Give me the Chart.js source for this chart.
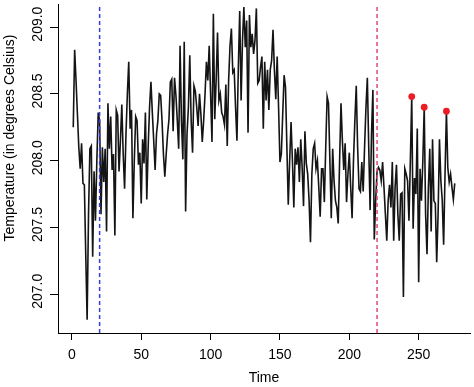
<!DOCTYPE html>
<html><head><meta charset="utf-8">
<script src="https://cdn.jsdelivr.net/npm/chart.js@4"></script>
<style>html,body{margin:0;padding:0;background:#fff}#wrap{width:474px;height:387px}</style>
</head><body><div id="wrap"><canvas id="c" width="474" height="387"></canvas></div>
<script>
// Temperature readings for Time = 1..276
const temps = [
208.25,208.83,208.60,208.35,208.10,207.94,208.13,207.83,207.82,207.30,
206.81,207.60,208.09,208.11,207.28,207.92,207.55,208.00,208.36,208.30,
207.60,208.10,207.84,208.09,207.47,208.43,208.09,208.33,207.93,208.05,
207.44,208.38,208.34,207.92,208.15,208.42,208.05,207.79,208.20,208.50,
208.74,208.24,208.38,207.57,208.00,208.33,208.30,207.97,208.06,207.68,
208.16,207.98,208.36,207.71,208.10,208.40,208.59,208.36,208.15,207.93,
208.20,208.30,208.50,208.49,208.30,208.05,207.88,208.05,208.20,208.31,
208.59,208.61,208.22,208.62,208.49,208.30,208.09,208.86,208.30,208.01,
208.89,207.62,208.20,208.40,208.79,208.30,208.06,208.56,208.52,208.40,
208.26,208.50,208.35,208.14,208.30,208.50,208.74,208.60,208.86,208.50,
208.14,209.10,208.31,208.60,208.96,208.45,208.50,208.36,208.33,208.27,
208.57,208.11,208.60,208.86,208.99,208.66,208.68,208.40,208.15,208.70,
209.12,208.45,208.90,209.15,208.85,209.05,208.21,209.09,208.85,208.95,
208.80,208.90,209.14,208.58,208.60,208.70,208.78,208.24,208.74,208.45,
208.68,208.38,208.68,208.75,208.98,208.68,208.46,208.78,208.40,207.99,
208.05,208.35,208.64,208.55,208.10,207.67,208.00,208.29,208.00,207.65,
208.09,207.97,208.10,207.84,208.16,207.95,207.66,208.22,207.98,207.90,
207.70,207.39,207.90,208.09,208.13,207.94,208.00,207.80,207.58,207.94,
207.94,207.69,208.10,208.48,208.43,208.00,207.57,208.09,207.85,207.70,
207.65,207.53,208.00,208.43,208.15,207.93,208.13,207.69,207.90,208.06,
207.80,207.57,208.00,208.30,208.56,208.10,207.79,207.77,207.99,207.77,
208.10,208.40,208.62,208.10,207.63,208.20,208.53,207.41,207.70,207.92,
207.95,207.93,207.85,207.99,207.80,207.60,207.40,207.70,207.82,207.65,
207.99,207.40,207.80,207.97,207.60,207.40,207.75,207.76,206.98,207.94,
207.90,207.85,207.55,208.00,208.48,207.49,207.87,207.75,208.24,207.09,
207.94,207.70,208.00,208.40,207.60,207.30,207.80,208.09,207.47,208.16,
207.70,207.68,207.24,207.60,208.16,207.85,207.70,207.37,207.90,208.37,
207.95,207.84,207.90,207.80,207.71,207.83
];
const outlierTimes = [245, 254, 270];
const outlierTemps = [208.48, 208.40, 208.37];
const changeTimes = [20, 220];
const changeColors = ['#2e40e0', '#e04870'];
const xTicks = [0, 50, 100, 150, 200, 250];
const yTicks = [207.0, 207.5, 208.0, 208.5, 209.0];
const yTickLabels = ['207.0', '207.5', '208.0', '208.5', '209.0'];
const X_MIN = -10, X_MAX = 287, Y_MIN = 206.71, Y_MAX = 209.173;

const FONT = '"Liberation Sans", Arial, Helvetica, sans-serif';

const seriesPts = temps.map((v, i) => ({x: i + 1, y: v}));
const outPts = outlierTimes.map((t, i) => ({x: t, y: outlierTemps[i]}));

const datasets = [
  {type: 'scatter', data: outPts, pointRadius: 3.4, pointBackgroundColor: '#ee1c24',
   pointBorderWidth: 0, order: 0},
  {type: 'line', data: seriesPts, borderColor: '#141414', borderWidth: 1.6, pointRadius: 0,
   tension: 0, fill: false, order: 2}
];
changeTimes.forEach((t, i) => {
  datasets.push({type: 'line', data: [{x: t, y: Y_MIN}, {x: t, y: Y_MAX}],
    borderColor: changeColors[i], borderWidth: 1.5, borderDash: [4, 3],
    pointRadius: 0, fill: false, order: 1});
});

const yLabelPlugin = {
  id: 'yLabels',
  afterDraw(chart) {
    const ctx = chart.ctx, ys = chart.scales.y;
    ctx.save();
    ctx.font = '14px ' + FONT;
    ctx.fillStyle = '#000';
    ctx.textAlign = 'center';
    ctx.textBaseline = 'middle';
    yTicks.forEach((v, i) => {
      const py = ys.getPixelForValue(v) - 3;
      ctx.save(); ctx.translate(38, py); ctx.rotate(-Math.PI / 2);
      ctx.fillText(yTickLabels[i], 0, 0); ctx.restore();
    });
    ctx.save(); ctx.translate(10, 138); ctx.rotate(-Math.PI / 2);
    ctx.fillText('Temperature (in degrees Celsius)', 0, 0); ctx.restore();
    ctx.restore();
  }
};

new Chart(document.getElementById('c'), {
  data: {datasets},
  options: {
    responsive: false, devicePixelRatio: 1, animation: false,
    layout: {padding: 0},
    plugins: {legend: {display: false}, tooltip: {enabled: false}},
    scales: {
      x: {
        type: 'linear', min: X_MIN, max: X_MAX,
        afterBuildTicks: s => { s.ticks = xTicks.map(v => ({value: v})); },
        afterFit: s => { s.height = 54; },
        ticks: {font: {family: FONT, size: 14}, color: '#000', padding: 7,
                maxRotation: 0, autoSkip: false, callback: v => String(v)},
        grid: {display: true, drawOnChartArea: false, drawTicks: true, tickLength: 7, color: '#000'},
        border: {display: true, color: '#000', width: 1},
        title: {display: true, text: 'Time', color: '#000', font: {family: FONT, size: 14},
                padding: {top: 4, bottom: 0}}
      },
      y: {
        type: 'linear', min: Y_MIN, max: Y_MAX,
        afterBuildTicks: s => { s.ticks = yTicks.map(v => ({value: v})); },
        afterFit: s => { s.width = 58; },
        ticks: {display: false},
        grid: {display: true, drawOnChartArea: false, drawTicks: true, tickLength: 8, color: '#000'},
        border: {display: true, color: '#000', width: 1}
      }
    }
  },
  plugins: [yLabelPlugin]
});
</script></body></html>
